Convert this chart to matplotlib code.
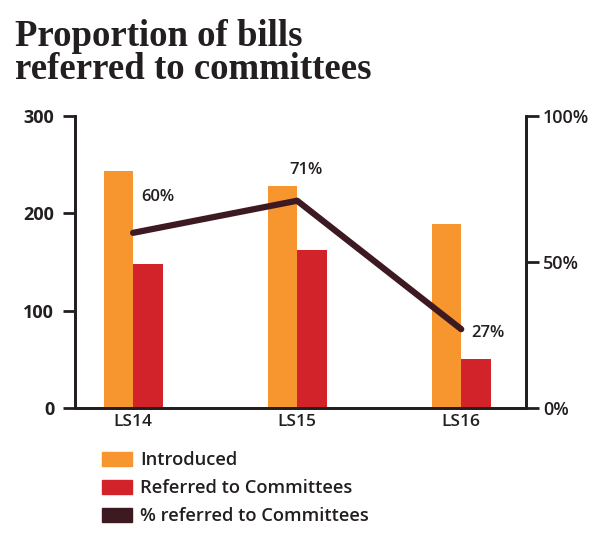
import matplotlib.pyplot as plt
from matplotlib.patches import Patch
import numpy as np

# data
sessions = ['LS14', 'LS15', 'LS16']
introduced = [244, 228, 189]
referred = [148, 162, 50]
pct_referred = [60, 71, 27]

orange = '#f7962f'
red = '#d2232a'
maroon = '#3d1a22'
dark = '#231f20'

plt.rcParams['font.family'] = ['Open Sans', 'DejaVu Sans']

fig = plt.figure(figsize=(6, 5.4), dpi=100)
ax = fig.add_axes([0.125, 0.2444, 0.752, 0.5407])
ax2 = ax.twinx()

x = np.arange(len(sessions))
w = 0.18
ax.bar(x - w / 2, introduced, w, color=orange, zorder=2)
ax.bar(x + w / 2, referred, w, color=red, zorder=2)

ax.set_xlim(-0.354, 2.396)
ax.set_ylim(0, 300)
ax.set_yticks([0, 100, 200, 300])
ax.set_xticks(x)
ax.set_xticklabels(sessions, fontsize=12.5, fontweight='semibold', color=dark)
ax.tick_params(axis='x', length=0, pad=4)
ax.tick_params(axis='y', length=9, width=2, color=dark, labelsize=13, labelcolor=dark, pad=6)
for lab in ax.get_yticklabels():
    lab.set_fontweight('bold')

# percentage line on right axis
ax2.set_ylim(0, 100)
ax2.set_yticks([0, 50, 100])
ax2.set_yticklabels(['0%', '50%', '100%'])
ax2.tick_params(axis='y', length=9, width=2, color=dark, labelsize=13, labelcolor=dark, pad=3)
for lab in ax2.get_yticklabels():
    lab.set_fontweight('semibold')
ax2.plot(x, pct_referred, color=maroon, lw=4.5, solid_capstyle='round', zorder=3)

# label offsets (x in category units, y in percent)
offsets = [(0.05, 12.3), (-0.05, 10.5), (0.06, -1.3)]
for xi, p, (dx, dy) in zip(x, pct_referred, offsets):
    ax2.text(xi + dx, p + dy, f'{p}%', fontsize=12, fontweight='semibold',
             color=dark, va='center', ha='left')

for a in (ax, ax2):
    a.spines['top'].set_visible(False)
    for s in ('left', 'right', 'bottom'):
        a.spines[s].set_linewidth(2)
        a.spines[s].set_color(dark)
ax2.set_zorder(ax.get_zorder() + 1)
ax2.patch.set_visible(False)

fig.text(0.025, 0.965, 'Proportion of bills\nreferred to committees', fontsize=26.5,
         fontweight='bold', family=['Liberation Serif', 'DejaVu Serif'],
         color=dark, va='top', ha='left', linespacing=0.92)

handles = [Patch(color=orange), Patch(color=red), Patch(color=maroon)]
labels = ['Introduced', 'Referred to Committees', '% referred to Committees']
leg = fig.legend(handles, labels, loc='upper left', bbox_to_anchor=(0.17, 0.165),
                 frameon=False, fontsize=13.2, handlelength=1.65, handleheight=0.8,
                 labelspacing=0.55, handletextpad=0.45, borderaxespad=0, borderpad=0)
for t in leg.get_texts():
    t.set_fontweight('semibold')
    t.set_color(dark)

fig.savefig('out.png', dpi=100)
